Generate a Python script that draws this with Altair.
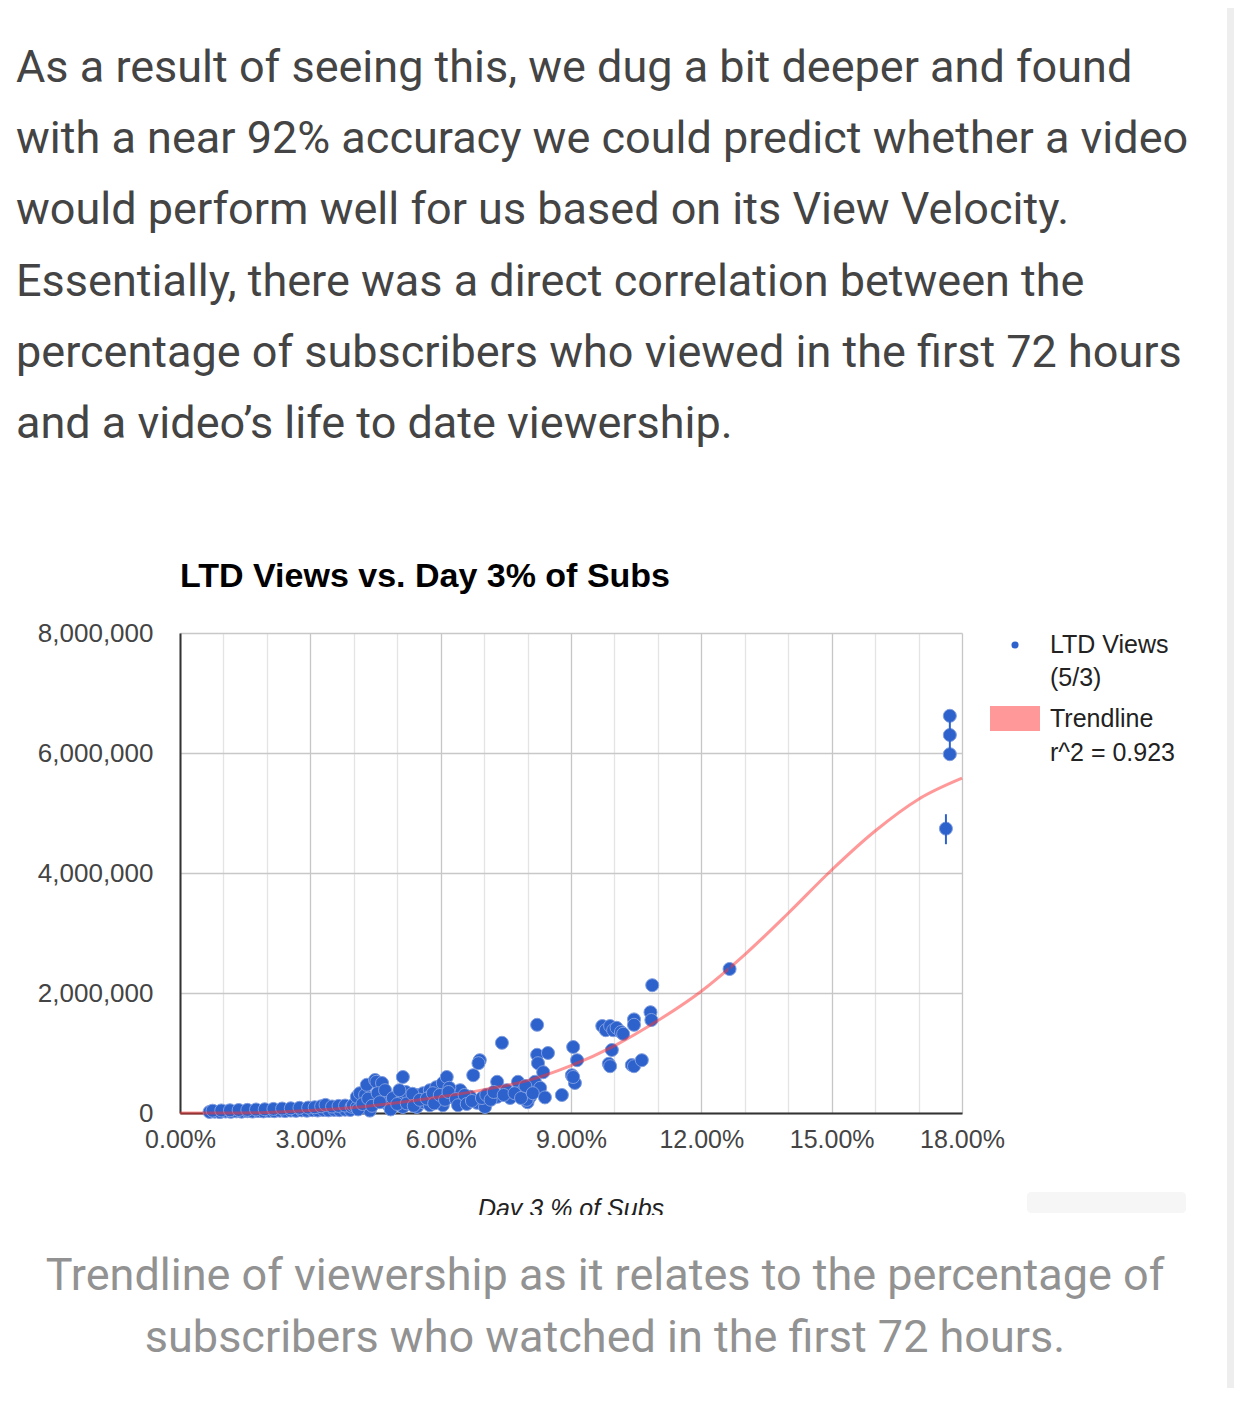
import altair as alt
import pandas as pd

# ---- page text ----
para_lines = [
    "As a result of seeing this, we dug a bit deeper and found",
    "with a near 92% accuracy we could predict whether a video",
    "would perform well for us based on its View Velocity.",
    "Essentially, there was a direct correlation between the",
    "percentage of subscribers who viewed in the first 72 hours",
    "and a video\u2019s life to date viewership.",
]
caption_lines = [
    "Trendline of viewership as it relates to the percentage of",
    "subscribers who watched in the first 72 hours.",
]
chart_title = "LTD Views vs. Day 3% of Subs"
x_title = "Day 3 % of Subs"
legend_labels = ["LTD Views", "(5/3)", "Trendline", "r^2 = 0.923"]

# ---- scatter: day-3 % of subs vs LTD views (thousands) ----
pct = [
    # dense band under 4%
    0.68, 0.80, 0.92, 1.05, 1.17, 1.30, 1.42, 1.55, 1.67, 1.80, 1.92, 2.05, 2.17, 2.30,
    2.42, 2.55, 2.67, 2.80, 2.92, 3.05, 3.17, 3.30, 3.42, 3.55, 3.67, 3.80, 3.92,
    0.75, 0.95, 1.15, 1.35, 1.55, 1.75, 1.95, 2.15, 2.35, 2.55, 2.75, 2.95, 3.10, 3.25,
    3.35, 3.50, 3.65, 3.80, 3.95,
    # 4 - 5%
    3.98, 4.07, 4.07, 4.14, 4.26, 4.26, 4.30, 4.37, 4.49, 4.52, 4.65, 4.65, 4.70, 4.79, 4.80,
    4.10, 4.20, 4.33, 4.42, 4.55, 4.60, 4.72, 4.85, 4.90,
    # 5 - 7%
    5.13, 5.13, 5.13, 5.30, 5.45, 5.45, 5.60, 5.60, 5.75, 5.75, 5.75, 5.90, 5.90, 6.05,
    6.05, 6.14, 6.26, 6.30, 6.45, 6.50, 6.68, 6.75, 6.84, 6.90, 6.87, 7.02, 5.00, 5.20, 6.20,
    5.05, 5.22, 5.35, 5.38, 5.52, 5.68, 5.82, 5.85, 5.98, 6.10, 6.18, 6.35, 6.40, 6.55,
    6.60, 6.72, 6.95, 7.05,
    # 7 - 9.2%
    7.30, 7.41, 7.30, 7.52, 7.60, 7.78, 7.90, 8.06, 8.00, 8.17, 8.22, 8.22, 8.24, 8.47,
    8.36, 8.29, 8.79, 9.05, 9.14, 9.02, 9.09, 9.05, 7.98,
    7.15, 7.22, 7.45, 7.70, 7.85, 7.95, 8.12, 8.40,
    # 9.6 - 11%
    9.72, 9.80, 9.90, 9.97, 10.05, 10.15, 10.20, 10.45, 10.45, 10.83, 10.85, 10.87, 9.94,
    9.87, 9.90, 10.40, 10.45, 10.63,
    # outliers
    12.65, 17.72, 17.72, 17.72, 17.63,
]
views_k = [
    18, 22, 15, 25, 20, 28, 22, 30, 24, 32, 27, 35, 30, 38,
    33, 40, 36, 44, 38, 47, 42, 50, 45, 52, 48, 55, 50,
    38, 42, 45, 50, 52, 58, 62, 68, 74, 78, 86, 90, 96, 112,
    135, 108, 118, 124, 105,
    130, 100, 270, 330, 180, 300, 470, 40, 550, 520, 500, 270, 230, 170, 130,
    60, 150, 240, 120, 330, 180, 380, 60, 250,
    600, 270, 100, 220, 300, 100, 330, 180, 380, 130, 270, 430, 220, 500,
    130, 600, 270, 330, 380, 220, 270, 630, 170, 880, 830, 100, 150, 350, 420,
    380, 160, 320, 120, 220, 240, 330, 160, 300, 220, 350, 230, 130, 300,
    150, 200, 250, 300,
    520, 1170, 270, 380, 250, 520, 380, 270, 180, 520, 1470, 970, 830, 1000,
    680, 420, 300, 1100, 880, 630, 500, 600, 220,
    220, 350, 300, 330, 250, 450, 330, 260,
    1450, 1380, 1450, 1380, 1420, 1350, 1320, 1560, 1470, 1680, 1550, 2130, 1050,
    820, 780, 800, 780, 880,
    2400, 6620, 6300, 5980, 4740,
]

# small vertical whiskers seen on a few points
whisk_pct = [17.72, 17.63, 12.65, 10.87]
whisk_lo_k = [5980, 4480, 2320, 2060]
whisk_hi_k = [6660, 4980, 2500, 2200]

# polynomial trendline
trend_pct = [0, 1, 2, 3, 4, 5, 6, 7, 8, 9, 10, 11, 12, 13, 14, 15, 16, 17, 18]
trend_k = [0, 0, 10, 40, 90, 170, 270, 390, 540, 790, 1120, 1540, 2030, 2640,
           3330, 4050, 4700, 5230, 5580]

x_ticks = [i / 2 for i in range(37)]
y_ticks = [0, 2000000, 4000000, 6000000, 8000000]

pts = pd.DataFrame({"pct": pct, "views": [v * 1000 for v in views_k]})
trend = pd.DataFrame({"pct": trend_pct, "views": [v * 1000 for v in trend_k]})
whisk = pd.DataFrame({"pct": whisk_pct,
                      "views": [v * 1000 for v in whisk_lo_k],
                      "hi": [v * 1000 for v in whisk_hi_k]})

BLUE = "#2d62cc"
RED = "#ff3434"
CHART_FONT = "Liberation Sans"
PAGE_FONT = "Roboto"
OX, OY = 180, 633  # page position of the plot's top-left corner

xs = alt.Scale(domain=[0, 18], nice=False, zero=False)
ys = alt.Scale(domain=[0, 8000000], nice=False)

points = alt.Chart(pts).mark_circle(
    size=170, opacity=1, color=BLUE, stroke="#7f9de0", strokeWidth=1
).encode(
    x=alt.X("pct:Q", scale=xs, title=None, axis=alt.Axis(
        values=x_ticks,
        labelExpr="datum.value % 3 === 0 ? format(datum.value / 100, '.2%') : ''",
        labelFont=CHART_FONT, labelFontSize=25, labelColor="#444",
        labelPadding=14, labelFlush=False, labelOverlap=False,
        ticks=False, tickSize=0, domainColor="#333", domainWidth=2,
        gridColor={"condition": {"test": "datum.value % 3 === 0", "value": "#c6c6c6"},
                   "value": "#e4e4e4"},
        gridWidth=1.3,
    )),
    y=alt.Y("views:Q", scale=ys, title=None, axis=alt.Axis(
        values=y_ticks, format=",d",
        labelFont=CHART_FONT, labelFontSize=26, labelColor="#444",
        labelPadding=27, ticks=False, tickSize=0,
        domainColor="#333", domainWidth=2, gridColor="#c8c8c8", gridWidth=1.3,
    )),
)

trendline = alt.Chart(trend).mark_line(
    color=RED, opacity=0.5, strokeWidth=3, interpolate="monotone"
).encode(x=alt.X("pct:Q", scale=xs), y=alt.Y("views:Q", scale=ys))

whiskers = alt.Chart(whisk).mark_rule(color=BLUE, strokeWidth=2).encode(
    x=alt.X("pct:Q", scale=xs), y=alt.Y("views:Q", scale=ys), y2="hi:Q"
)


def txt(text, x, y, size, color="#222", font=CHART_FONT, align="left",
        weight="normal", style="normal", line_height=0):
    kw = dict(align=align, baseline="alphabetic", font=font, fontSize=size,
              color=color, fontWeight=weight, fontStyle=style)
    if line_height:
        kw.update(lineBreak="\n", lineHeight=line_height)
    return alt.Chart(pd.DataFrame({"t": [text]})).mark_text(**kw).encode(
        text="t:N", x=alt.value(x - OX), y=alt.value(y - OY)
    )


def box(x1, x2, y1, y2, color, opacity=1.0, radius=0):
    return alt.Chart(pd.DataFrame({"t": [0]})).mark_rect(
        color=color, opacity=opacity, cornerRadius=radius
    ).encode(x=alt.value(x1 - OX), x2=alt.value(x2 - OX),
             y=alt.value(y1 - OY), y2=alt.value(y2 - OY))


legend_dot = alt.Chart(pd.DataFrame({"t": [legend_labels[0]]})).mark_circle(
    size=50, color=BLUE, opacity=1
).encode(x=alt.value(1015 - OX), y=alt.value(645 - OY))

layers = [
    points,
    trendline,
    whiskers,
    txt(chart_title, 180, 587, 34, color="#000", weight="bold"),
    legend_dot,
    txt(legend_labels[0], 1050, 653, 25),
    txt(legend_labels[1], 1050, 686, 25),
    box(990, 1040, 706, 731, RED, opacity=0.5),
    txt(legend_labels[2], 1050, 727, 25),
    txt(legend_labels[3], 1050, 761, 25),
    box(1027, 1186, 1192, 1213, "#f6f6f6", radius=4),
    txt(x_title, 571, 1217, 25, align="center", style="italic"),
    box(400, 760, 1215, 1250, "#ffffff"),
    txt("\n".join(para_lines), 16, 82, 45, color="#444", font=PAGE_FONT, line_height=71.2),
    txt("\n".join(caption_lines), 605, 1290, 45, color="#929292", font=PAGE_FONT,
        align="center", line_height=62),
    box(1227, 1260, 0, 1420, "#eeeeee"),
]

chart = alt.layer(*layers).properties(
    width=782,
    height=480,
    padding={"left": 172, "top": 625, "right": 272, "bottom": 275},
    autosize=alt.AutoSizeParams(type="none"),
).configure_view(stroke=None)

chart.save("out.html", embed_options={"renderer": "svg", "actions": False})
